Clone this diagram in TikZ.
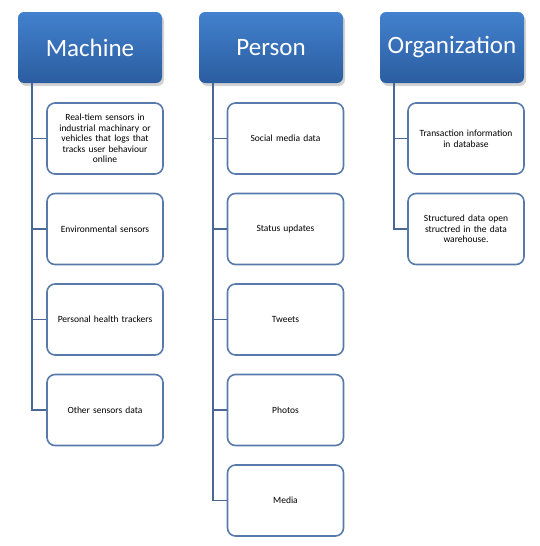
\documentclass[tikz,border=0pt]{standalone}
\usepackage{fontspec}
\setmainfont{Carlito}
\usetikzlibrary{calc,shadows}

\definecolor{headtop}{RGB}{66,129,206}
\definecolor{headbot}{RGB}{43,93,160}
\definecolor{boxline}{RGB}{88,122,170}
\definecolor{linkline}{RGB}{74,104,150}

\tikzset{
  headbox/.style={rounded corners=6pt, top color=headtop, bottom color=headbot,
    draw=none, minimum width=144pt, minimum height=71pt, text=white,
    font=\fontsize{25}{29}\selectfont,
    drop shadow={shadow xshift=2pt, shadow yshift=-3pt, opacity=0.35}},
  itembox/.style={draw=boxline, line width=1.6pt, rounded corners=8pt, fill=white,
    minimum width=116pt, minimum height=71pt, text width=106pt, align=center,
    font=\fontsize{9.5}{10.5}\selectfont},
  link/.style={draw=linkline, line width=1.8pt}
}

\begin{document}
\begin{tikzpicture}[x=1pt,y=-1pt]
    \useasboundingbox (0,0) rectangle (539,546);

    \node[headbox] (machine) at (90,47.5) {Machine};
    \node[headbox] (person) at (271,47.5) {Person};
    \node[headbox] (org) at (452,47.5) {Organization};

    \coordinate (machineTrunk) at ($(machine.south west)+(14pt,0)$);
    \coordinate (personTrunk) at ($(person.south west)+(14pt,0)$);
    \coordinate (orgTrunk) at ($(org.south west)+(14pt,0)$);

    \node[itembox] (machine1) at (105,138.5) {Real-tiem sensors in\\ industrial machinary or\\ vehicles that logs that\\ tracks user behaviour\\ online};
    \node[itembox] (machine2) at (105,229) {Environmental sensors};
    \node[itembox] (machine3) at (105,319.5) {Personal health trackers};
    \node[itembox] (machine4) at (105,410) {Other sensors data};

    \node[itembox] (person1) at (285.5,138.5) {Social media data};
    \node[itembox] (person2) at (285.5,229) {Status updates};
    \node[itembox] (person3) at (285.5,319.5) {Tweets};
    \node[itembox] (person4) at (285.5,410) {Photos};
    \node[itembox] (person5) at (285.5,500.5) {Media};

    \node[itembox] (org1) at (466,138.5) {Transaction information\\ in database};
    \node[itembox] (org2) at (466,229) {Structured data open\\ structred in the data\\ warehouse.};

    \draw[link] (machineTrunk) |- (machine4.west);
    \draw[link] (machineTrunk |- machine1.west) -- (machine1.west);
    \draw[link] (machineTrunk |- machine2.west) -- (machine2.west);
    \draw[link] (machineTrunk |- machine3.west) -- (machine3.west);

    \draw[link] (personTrunk) |- (person5.west);
    \draw[link] (personTrunk |- person1.west) -- (person1.west);
    \draw[link] (personTrunk |- person2.west) -- (person2.west);
    \draw[link] (personTrunk |- person3.west) -- (person3.west);
    \draw[link] (personTrunk |- person4.west) -- (person4.west);

    \draw[link] (orgTrunk) |- (org2.west);
    \draw[link] (orgTrunk |- org1.west) -- (org1.west);
\end{tikzpicture}
\end{document}
